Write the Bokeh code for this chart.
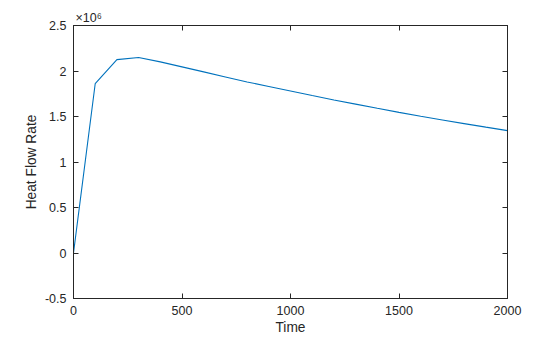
from bokeh.plotting import figure
from bokeh.models import LinearAxis, FixedTicker, Range1d, Title
from bokeh.embed import file_html
from bokeh.resources import INLINE

# Data
time = [0, 100, 200, 300, 400, 500, 600, 700, 800, 900, 1000,
        1100, 1200, 1300, 1400, 1500, 1600, 1700, 1800, 1900, 2000]
heat_flow = [0.0, 1.86e6, 2.125e6, 2.148e6, 2.100e6, 2.045e6, 1.990e6, 1.935e6,
             1.880e6, 1.830e6, 1.780e6, 1.730e6, 1.682e6, 1.636e6, 1.590e6,
             1.545e6, 1.502e6, 1.462e6, 1.422e6, 1.383e6, 1.345e6]

x_ticks = [0, 500, 1000, 1500, 2000]
y_ticks = [-0.5e6, 0.0, 0.5e6, 1.0e6, 1.5e6, 2.0e6, 2.5e6]
y_tick_labels = ["-0.5", "0", "0.5", "1", "1.5", "2", "2.5"]
x_label = "Time"
y_label = "Heat Flow Rate"
exponent_text = "\u00d710\u2076"

FONT = "Liberation Sans"
AX_COLOR = "#262626"
LINE_COLOR = "#0072BD"

p = figure(width=560, height=337, output_backend="svg", toolbar_location=None,
           x_range=Range1d(0, 2000), y_range=Range1d(-0.5e6, 2.5e6),
           min_border_left=73, min_border_right=53, min_border_top=25,
           min_border_bottom=39, background_fill_color="white",
           border_fill_color="white")

p.line(time, heat_flow, line_color=LINE_COLOR, line_width=1.1)

p.xgrid.visible = False
p.ygrid.visible = False
p.outline_line_color = AX_COLOR
p.outline_line_width = 1

def style_axis(ax, show_labels=True):
    ax.axis_line_color = AX_COLOR
    ax.major_tick_line_color = AX_COLOR
    ax.minor_tick_line_color = None
    ax.major_tick_in = 5
    ax.major_tick_out = 0
    ax.major_label_text_font = FONT
    ax.major_label_text_color = AX_COLOR
    ax.axis_label_text_font = FONT
    ax.axis_label_text_color = AX_COLOR
    ax.axis_label_text_font_style = "normal"
    ax.axis_label_text_font_size = "13.75px"
    if show_labels:
        ax.major_label_text_font_size = "12.5px"
    else:
        ax.major_label_text_font_size = "0px"
        ax.major_label_standoff = 0

xa = p.xaxis[0]
ya = p.yaxis[0]
xa.ticker = FixedTicker(ticks=x_ticks)
ya.ticker = FixedTicker(ticks=y_ticks)
ya.major_label_overrides = {t: l for t, l in zip(y_ticks, y_tick_labels)}
style_axis(xa)
style_axis(ya)
xa.axis_label = x_label
ya.axis_label = y_label
xa.major_label_standoff = 7
ya.major_label_standoff = 7
xa.axis_label_standoff = 2
ya.axis_label_standoff = 3

top = LinearAxis(ticker=FixedTicker(ticks=x_ticks))
right = LinearAxis(ticker=FixedTicker(ticks=y_ticks))
style_axis(top, False)
style_axis(right, False)
top.major_label_overrides = {t: "" for t in x_ticks}
right.major_label_overrides = {t: "" for t in y_ticks}
p.add_layout(top, "above")
p.add_layout(right, "right")

p.add_layout(Title(text=exponent_text, align="left", offset=2, standoff=2,
                   text_font=FONT, text_font_size="12.5px",
                   text_font_style="normal", text_color=AX_COLOR), "above")

open("out.html", "w").write(file_html(p, INLINE))
